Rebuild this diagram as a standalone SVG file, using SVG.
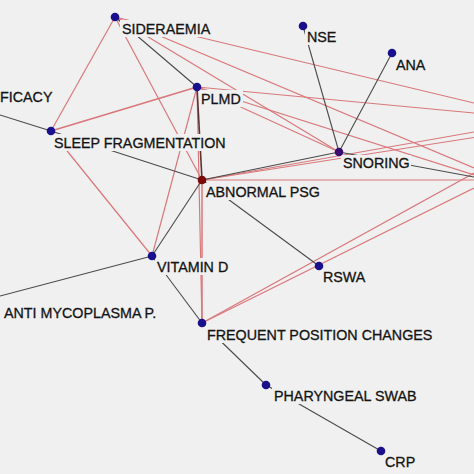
<svg xmlns="http://www.w3.org/2000/svg" width="474" height="474" viewBox="0 0 474 474">
<style>
.bg{fill:#f0f0f0}
.r{stroke:#d9787b;stroke-width:1.2;fill:none}
.k{stroke:#4a4a4a;stroke-width:1.1;fill:none}
.lb{fill:#f0f0f0}
.t{font-family:"Liberation Sans",Arial,sans-serif;font-size:14.3px;fill:#141414;stroke:#141414;stroke-width:0.3}
.d{fill:#1a0f8c}
.dr{fill:#7a0a0a}
</style>
<rect class="bg" x="0" y="0" width="474" height="474"/>
<g id="connectors">
<line class="r" x1="115" y1="17" x2="51" y2="131"/>
<line class="r" x1="115" y1="17" x2="202" y2="180"/>
<line class="r" x1="115" y1="17" x2="339" y2="152"/>
<line class="r" x1="115" y1="17" x2="474" y2="103"/>
<line class="r" x1="115" y1="17" x2="474" y2="168"/>
<line class="r" x1="51" y1="131" x2="197" y2="87" style="stroke-width:1.7"/>
<line class="r" x1="51" y1="131" x2="152" y2="256"/>
<line class="r" x1="197" y1="87" x2="152" y2="256"/>
<line class="r" x1="197" y1="87" x2="202" y2="323"/>
<line class="r" x1="197" y1="87" x2="339" y2="152"/>
<line class="r" x1="197" y1="87" x2="474" y2="113"/>
<line class="r" x1="197" y1="87" x2="474" y2="175"/>
<line class="r" x1="202" y1="180" x2="202" y2="323" style="stroke-width:1.5"/>
<line class="r" x1="202" y1="180" x2="474" y2="180"/>
<line class="r" x1="202" y1="180" x2="474" y2="132"/>
<line class="r" x1="202" y1="180" x2="474" y2="137.5"/>
<line class="r" x1="202" y1="323" x2="474" y2="173"/>
<line class="r" x1="202" y1="323" x2="474" y2="188"/>
<line class="k" x1="115" y1="17" x2="197" y2="87"/>
<line class="k" x1="197" y1="87" x2="202" y2="180" style="stroke-width:1.6;stroke:#5a3535"/>
<line class="k" x1="51" y1="131" x2="202" y2="180"/>
<line class="k" x1="0" y1="115" x2="51" y2="131"/>
<line class="k" x1="202" y1="180" x2="152" y2="256"/>
<line class="k" x1="202" y1="180" x2="339" y2="152"/>
<line class="k" x1="202" y1="180" x2="319" y2="266"/>
<line class="k" x1="152" y1="256" x2="202" y2="323"/>
<line class="k" x1="152" y1="256" x2="0" y2="296"/>
<line class="k" x1="202" y1="323" x2="266" y2="385"/>
<line class="k" x1="266" y1="385" x2="381" y2="451"/>
<line class="k" x1="303" y1="26" x2="339" y2="152"/>
<line class="k" x1="392" y1="53" x2="339" y2="152"/>
<line class="k" x1="339" y1="152" x2="474" y2="177"/>
</g>
<g id="node-ficacy">
<rect class="lb" x="0" y="88" width="52" height="17"/>
<text class="t" x="0" y="102">FICACY</text>
</g>
<g id="node-sideraemia">
<rect class="lb" x="120" y="20" width="92" height="17"/>
<text class="t" x="122" y="34">SIDERAEMIA</text>
<circle class="d" cx="115" cy="17" r="4.3"/>
</g>
<g id="node-plmd">
<rect class="lb" x="199" y="90" width="44" height="17"/>
<text class="t" x="201" y="104">PLMD</text>
<circle class="d" cx="197" cy="87" r="4.3"/>
</g>
<g id="node-sleep-fragmentation">
<rect class="lb" x="52" y="134" width="178" height="17"/>
<text class="t" x="54" y="148">SLEEP FRAGMENTATION</text>
<circle class="d" cx="51" cy="131" r="4.3"/>
</g>
<g id="node-abnormal-psg">
<rect class="lb" x="204" y="183" width="118" height="17"/>
<text class="t" x="206" y="197">ABNORMAL PSG</text>
<circle class="dr" cx="202" cy="180" r="4.3"/>
</g>
<g id="node-vitamin-d">
<rect class="lb" x="155" y="258" width="76" height="17"/>
<text class="t" x="157" y="272">VITAMIN D</text>
<circle class="d" cx="152" cy="256" r="4.3"/>
</g>
<g id="node-anti-mycoplasma">
<rect class="lb" x="2" y="304" width="159" height="17"/>
<text class="t" x="4" y="318">ANTI MYCOPLASMA P.</text>
</g>
<g id="node-frequent-position-changes">
<rect class="lb" x="205" y="326" width="230" height="17"/>
<text class="t" x="207" y="340">FREQUENT POSITION CHANGES</text>
<circle class="d" cx="202" cy="323" r="4.3"/>
</g>
<g id="node-pharyngeal-swab">
<rect class="lb" x="272" y="387" width="148" height="17"/>
<text class="t" x="274" y="401">PHARYNGEAL SWAB</text>
<circle class="d" cx="266" cy="385" r="4.3"/>
</g>
<g id="node-crp">
<rect class="lb" x="383" y="453" width="34" height="17"/>
<text class="t" x="385" y="467">CRP</text>
<circle class="d" cx="381" cy="451" r="4.3"/>
</g>
<g id="node-rswa">
<rect class="lb" x="321" y="268" width="47" height="17"/>
<text class="t" x="323" y="282">RSWA</text>
<circle class="d" cx="319" cy="266" r="4.3"/>
</g>
<g id="node-snoring">
<rect class="lb" x="341" y="155" width="70" height="16"/>
<text class="t" x="343" y="168">SNORING</text>
<circle cx="339" cy="152" r="4.3" fill="#3a0a70"/>
</g>
<g id="node-nse">
<rect class="lb" x="305" y="28" width="33" height="17"/>
<text class="t" x="307" y="42">NSE</text>
<circle class="d" cx="303" cy="26" r="4.3"/>
</g>
<g id="node-ana">
<rect class="lb" x="394" y="56" width="33" height="17"/>
<text class="t" x="396" y="70">ANA</text>
<circle class="d" cx="392" cy="53" r="4.3"/>
</g>
</svg>
